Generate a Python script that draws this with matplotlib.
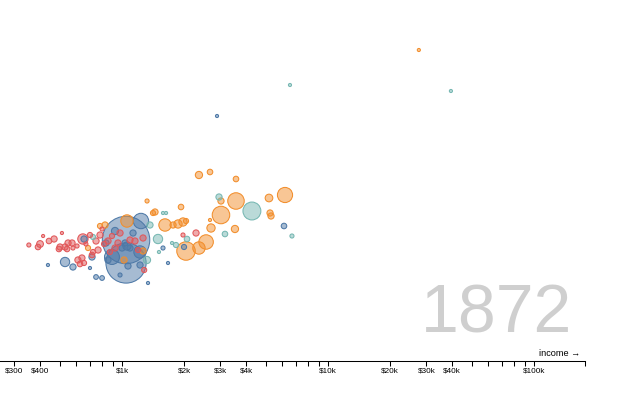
import numpy as np
import matplotlib
matplotlib.use("Agg")
import matplotlib.pyplot as plt
from matplotlib.ticker import FixedLocator, FixedFormatter, NullLocator

plt.rcParams["font.family"] = ["Liberation Sans", "DejaVu Sans"]

YEAR = "1872"

# income ($), life expectancy (years), population (millions) per region
europe_income = [27600, 2363, 2674, 3575, 1323, 1934, 1446, 3023, 3575, 5170,
                 6183, 3023, 5230, 5288, 2674, 2704, 3534, 2560, 2363, 2045,
                 1617, 1769, 1870, 1977, 2045, 1057, 1023, 827, 782, 1265,
                 1414, 684]
europe_life = [69, 44, 44.6, 43.2, 38.8, 37.6, 36.6, 38.8, 38.8, 39.4,
               40, 36, 36.4, 35.8, 35, 33.4, 33.2, 30.6, 29.4, 28.8,
               34, 34, 34.2, 34.6, 34.8, 34.8, 27, 34, 33.8, 28.8,
               36.4, 29.4]
europe_pop = [1.4, 7.5, 4.4, 4.4, 2.4, 4.4, 5.5, 5.5, 39, 8.4,
              33, 44, 5.5, 5.5, 1.4, 9.8, 7.5, 30, 22, 49,
              22, 5.5, 9.8, 9.8, 3.8, 22, 5.5, 5.5, 3.8, 5.5,
              3.8, 3.8]

americas_income = [6536, 39500, 2957, 4271, 3161, 6683, 1495, 2068, 1581, 1636,
                   1749, 1828, 1511, 1322, 723, 1367]
americas_life = [62, 60.8, 39.6, 36.8, 32.2, 31.8, 31.2, 31.2, 36.4, 36.4,
                 30.4, 30, 28.6, 27, 31.6, 34]
americas_pop = [1.4, 1.4, 5.5, 46, 4.4, 2.4, 12.4, 4.4, 1.4, 1.4,
                1.4, 3.8, 1.4, 7.5, 3.8, 5.5]

asia_income = [2892, 6114, 1046, 1046, 1236, 894, 1223, 529, 578, 437,
               699, 748, 800, 715, 1581, 1672, 2000, 1337, 1034, 1057,
               1093, 1000, 1131, 925, 1069, 978, 654, 836, 855, 1223]
asia_life = [55.8, 33.8, 31, 26.4, 34.8, 27.6, 28.6, 26.6, 25.6, 26,
             25.4, 23.6, 23.4, 27.6, 29.4, 26.4, 29.6, 22.4, 30.4, 29.8,
             29.4, 29.4, 32.4, 32.8, 25.8, 24, 31.2, 30.4, 27, 26]
asia_pop = [1.4, 4.4, 323, 232, 34, 32, 22, 12.4, 5.5, 1.4,
            1.4, 3.2, 3.2, 5.5, 2.4, 1.4, 3.8, 1.4, 5.5, 9.8,
            5.5, 5.5, 5.5, 7.5, 5.5, 2.4, 5.5, 5.5, 5.5, 5.5]

africa_income = [353, 391, 400, 414, 442, 468, 511, 500, 494, 529,
                 547, 541, 572, 578, 605, 646, 699, 611, 639, 625,
                 654, 715, 723, 748, 765, 782, 978, 956, 1093, 1156,
                 925, 1196, 1265, 894, 855, 1977, 2287, 818, 668, 800,
                 874, 1281]
africa_life = [30, 29.6, 30.2, 31.8, 30.8, 31.2, 32.4, 29.6, 29.2, 29.6,
               30.4, 29.2, 30.4, 29.4, 29.8, 31.2, 32, 27, 27.4, 26.2,
               26.4, 28, 28.6, 30.8, 29, 32, 32.4, 30.4, 31, 30.8,
               29.4, 29, 31.4, 31.8, 30.8, 32, 32.4, 30.2, 30.2, 33.2,
               28.6, 25]
africa_pop = [2.4, 4.4, 6.6, 1.4, 4.4, 5.5, 1.4, 5.5, 4.4, 5.5,
              5.5, 4.4, 5.5, 2.4, 2.4, 15.3, 3.8, 5.5, 5.5, 4.4,
              3.8, 4.4, 3.8, 5.5, 5.5, 5.5, 5.5, 5.5, 5.5, 5.5,
              5.5, 3.8, 5.5, 3.8, 5.5, 2.4, 5.5, 3.8, 2.4, 2.4,
              3.8, 3.8]

tick_values = [300, 400, 500, 600, 700, 800, 900, 1000, 2000, 3000, 4000,
               5000, 6000, 7000, 8000, 9000, 10000, 20000, 30000, 40000,
               50000, 60000, 70000, 80000, 90000, 100000]
tick_labels = ["$300", "$400", "", "", "", "", "", "$1k", "$2k", "$3k", "$4k",
               "", "", "", "", "", "$10k", "$20k", "$30k", "$40k",
               "", "", "", "", "", "$100k"]

colors = {"europe": "#f28e2c", "americas": "#76b7b2",
          "asia": "#4e79a7", "africa": "#e15759"}

income = np.concatenate([europe_income, americas_income, asia_income, africa_income])
life = np.concatenate([europe_life, americas_life, asia_life, africa_life])
pop = np.concatenate([europe_pop, americas_pop, asia_pop, africa_pop])
col = (["europe"] * len(europe_income) + ["americas"] * len(americas_income)
       + ["asia"] * len(asia_income) + ["africa"] * len(africa_income))
col = np.array([colors[c] for c in col])

# biggest first so small ones sit on top
order = np.argsort(-pop, kind="stable")
income, life, pop, col = income[order], life[order], pop[order], col[order]

radius_px = 1.32 * np.sqrt(pop)
sizes = (2 * radius_px * 0.72) ** 2

fig = plt.figure(figsize=(6.4, 4), dpi=100)
ax = fig.add_axes([0, 39.3 / 400, 585 / 640, 360.7 / 400])
ax.set_xscale("log")
xmin, xmax = 255.7, 176800
ax.set_xlim(xmin, xmax)
ax.set_ylim(6.86, 79)

face = [matplotlib.colors.to_rgba(c, 0.5) for c in col]
ax.scatter(income, life, s=sizes, c=face, edgecolors=col, linewidths=0.75,
           clip_on=False, zorder=3)

for side in ["top", "left", "right"]:
    ax.spines[side].set_visible(False)
ax.spines["bottom"].set_linewidth(0.75)
ax.spines["bottom"].set_color("black")
ax.yaxis.set_visible(False)

ax.xaxis.set_major_locator(FixedLocator(tick_values + [xmax]))
ax.xaxis.set_major_formatter(FixedFormatter(tick_labels + [""]))
ax.xaxis.set_minor_locator(NullLocator())
ax.tick_params(axis="x", length=3.4, width=0.75, labelsize=5.9, pad=1.6,
               colors="black")

fig.text(580 / 640, (400 - 356) / 400, "income →", ha="right", va="baseline",
         fontsize=6.6)
fig.text(572 / 640, (400 - 332.3) / 400, YEAR, ha="right", va="baseline",
         fontsize=49, color="#cfcfcf")

fig.savefig("out.png", dpi=100)
